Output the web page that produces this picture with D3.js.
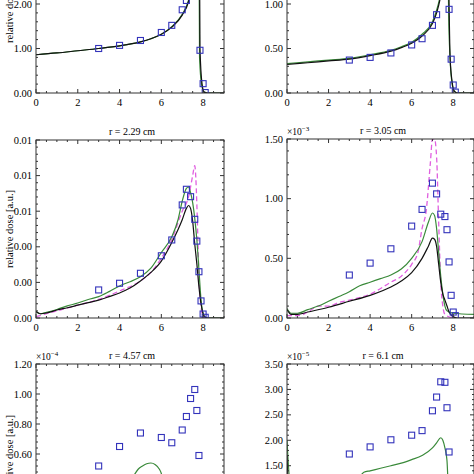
<!DOCTYPE html>
<html><head><meta charset="utf-8">
<script src="https://cdn.jsdelivr.net/npm/d3@7"></script>
<style>body{margin:0;background:#fff}text{font-family:"Liberation Serif","DejaVu Serif",serif}</style>
</head><body><svg id="c" width="474" height="474"></svg>
<script>
// ---- data (depth in cm, dose in panel units) ----
const p1Black=[[0,0.86],[1,0.9],[2,0.95],[3,1.0],[4,1.06],[5,1.15],[5.5,1.22],[6,1.32],[6.5,1.48],[7,1.75],[7.3,2.05],[7.5,2.5],[7.7,3.2],[7.82,3.6],[7.85,1.0],[7.95,0.2],[8.05,0.02],[8.2,0],[9,0]];
const p1Green=[[0,0.86],[1,0.9],[2,0.95],[3,1.0],[4,1.06],[5,1.15],[5.5,1.22],[6,1.32],[6.5,1.49],[7,1.77],[7.3,2.08],[7.5,2.55],[7.7,3.2],[7.8,3.5],[7.83,0.8],[7.93,0.18],[8.05,0.02],[8.2,0],[9,0]];
const p1Sq=[[3,1.0],[4,1.07],[5,1.18],[6,1.36],[6.5,1.52],[7,1.87],[7.2,2.08],[7.85,0.96],[8.0,0.21],[8.1,0.01]];

const p2Black=[[0,0.32],[1,0.34],[2,0.36],[3,0.38],[4,0.42],[5,0.47],[5.5,0.51],[6,0.56],[6.5,0.64],[7,0.78],[7.2,0.9],[7.4,1.1],[7.6,1.5],[7.75,1.8],[7.8,1.0],[7.85,0.4],[7.95,0.12],[8.05,0.02],[8.2,0],[9,0]];
const p2Green=[[0,0.33],[1,0.35],[2,0.37],[3,0.39],[4,0.43],[5,0.48],[5.5,0.52],[6,0.57],[6.5,0.66],[7,0.8],[7.2,0.93],[7.4,1.13],[7.6,1.55],[7.74,1.8],[7.78,0.9],[7.85,0.38],[7.95,0.1],[8.05,0.02],[8.2,0],[9,0]];
const p2Sq=[[3,0.37],[4,0.4],[5,0.45],[6,0.54],[6.5,0.61],[7,0.76],[7.2,0.88],[7.8,0.94],[7.9,0.38],[8.0,0.09],[8.1,0.01]];

const p3Black=[[0,0.45],[0.2,0.3],[0.5,0.35],[1,0.56],[1.5,0.72],[2,0.9],[2.5,1.08],[3,1.26],[3.5,1.5],[4,1.76],[4.5,2.1],[5,2.6],[5.5,3.2],[6,4.0],[6.5,5.3],[7,6.9],[7.2,7.7],[7.3,7.9],[7.4,7.7],[7.5,6.8],[7.6,5.2],[7.7,3.8],[7.8,2.2],[7.9,1.0],[8.0,0.3],[8.1,0.05],[8.2,0],[9,0]];
const p3Green=[[0,0.45],[0.2,0.3],[0.5,0.4],[1,0.6],[1.5,0.85],[2,1.05],[2.5,1.3],[3,1.5],[3.5,1.85],[4,2.25],[4.5,2.55],[5,2.9],[5.5,3.5],[6,4.6],[6.5,5.7],[6.8,6.9],[7,8.2],[7.2,9.1],[7.3,9.2],[7.4,8.8],[7.5,8.1],[7.6,7.0],[7.7,5.5],[7.8,3.4],[7.9,1.3],[8.0,0.3],[8.1,0.05],[8.2,0],[9,0]];
const p3Mag=[[0,0.1],[0.5,0.3],[1,0.5],[2,0.9],[3,1.3],[4,1.9],[5,2.6],[5.5,3.2],[6,4.2],[6.5,5.5],[7,7.5],[7.3,8.5],[7.5,10.0],[7.6,10.7],[7.7,8.0],[7.75,5.5],[7.8,3.0],[7.9,0.8],[8.0,0.1],[8.2,0]];
const p3Sq=[[3,1.97],[4,2.44],[5,3.14],[6,4.37],[6.5,5.48],[7,7.94],[7.2,9.04],[7.4,8.52],[7.6,6.93],[7.7,5.4],[7.8,3.25],[7.9,1.2],[8.0,0.28],[8.1,0.05]];
const p3Ticks=[0,2.5,5,7.5,10,12.5], p3TickLabels=["0.00","0.00","0.00","0.01","0.01","0.01"];

const p4Black=[[0,0.07],[0.2,0.03],[0.5,0.03],[1,0.05],[2,0.09],[3,0.14],[4,0.19],[5,0.26],[5.5,0.31],[6,0.38],[6.5,0.5],[6.8,0.6],[7,0.67],[7.1,0.66],[7.2,0.6],[7.3,0.45],[7.4,0.3],[7.5,0.2],[7.6,0.15],[7.7,0.1],[7.8,0.05],[8,0.01],[8.2,0],[9,0]];
const p4Green=[[0,0.08],[0.2,0.04],[0.5,0.04],[1,0.07],[1.5,0.1],[2,0.14],[2.5,0.18],[3,0.22],[3.5,0.27],[4,0.3],[4.5,0.33],[5,0.36],[5.5,0.41],[6,0.5],[6.5,0.64],[6.8,0.8],[7,0.88],[7.1,0.86],[7.2,0.75],[7.3,0.55],[7.4,0.35],[7.5,0.2],[7.6,0.1],[7.7,0.06],[8,0.04],[9,0.03]];
const p4Mag=[[0,0.02],[0.5,0.02],[1,0.05],[1.5,0.1],[2,0.1],[2.5,0.13],[3,0.15],[4,0.2],[5,0.3],[5.5,0.35],[6,0.45],[6.3,0.55],[6.5,0.75],[6.7,0.9],[6.9,1.3],[7.0,1.5],[7.1,1.5],[7.2,1.35],[7.3,0.8],[7.4,0.3],[7.5,0.1],[7.6,0.03],[8,0]];
const p4Sq=[[3,0.36],[4,0.46],[5,0.58],[6,0.77],[6.5,0.91],[7,1.13],[7.2,1.04],[7.4,0.87],[7.6,0.85],[7.7,0.74],[7.8,0.47],[7.9,0.19],[8.0,0.05],[8.1,0.02]];

const p5Green=[[0,0.2],[1,0.25],[2,0.3],[3,0.35],[4,0.39],[4.5,0.42],[4.7,0.46],[4.9,0.5],[5.1,0.52],[5.3,0.535],[5.5,0.54],[5.7,0.53],[5.9,0.5],[6.0,0.47],[6.1,0.4],[6.3,0.35],[7,0.3],[8,0.05]];
const p5Sq=[[3,0.52],[4,0.65],[5,0.74],[6,0.71],[6.5,0.675],[7,0.76],[7.2,0.85],[7.4,0.97],[7.6,1.03],[7.7,0.89],[7.8,0.59],[7.9,0.3],[8.0,0.1]];

const p6Black=[[0,1.7],[0.1,1.0],[1,0.9],[3,1.0],[5,1.1],[7,1.3],[7.7,1.2],[8,0.3],[9,0.2]];
const p6Green=[[0,2.0],[0.15,1.2],[1,1.1],[2,1.15],[3,1.25],[3.5,1.3],[3.7,1.37],[4,1.4],[4.5,1.45],[5,1.5],[5.5,1.55],[6,1.62],[6.5,1.7],[7,1.85],[7.2,1.95],[7.4,2.05],[7.5,2.0],[7.6,1.85],[7.7,1.6],[7.75,1.2],[8,0.5],[9,0.3]];
const p6Sq=[[3,1.73],[4,1.87],[5,2.01],[6,2.1],[6.5,2.19],[7,2.58],[7.2,2.85],[7.4,3.15],[7.6,3.14],[7.7,2.64],[7.8,1.77]];

const xTicks=[0,2,4,6,8];

// ---- drawing ----
const svg=d3.select("#c");
const panels=[
 {x:[36,224],y:[93,-85],dom:[0,4],ticks:[0,1,2,3,4],fmt:d3.format(".2f"),black:p1Black,green:p1Green,sq:p1Sq,ylab:true},
 {x:[287,474],y:[93,-85],dom:[0,2],ticks:[0,0.5,1,1.5,2],fmt:d3.format(".2f"),black:p2Black,green:p2Green,sq:p2Sq},
 {x:[36,224],y:[318,140],dom:[0,12.5],ticks:p3Ticks,labels:p3TickLabels,black:p3Black,green:p3Green,mag:p3Mag,sq:p3Sq,title:"r = 2.29 cm",ylab:true},
 {x:[287,474],y:[318,139],dom:[0,1.5],ticks:[0,0.5,1,1.5],fmt:d3.format(".2f"),black:p4Black,green:p4Green,mag:p4Mag,sq:p4Sq,title:"r = 3.05 cm",exp:"−3"},
 {x:[36,224],y:[544,364],dom:[0,1.2],ticks:[0,0.2,0.4,0.6,0.8,1.0,1.2],fmt:d3.format(".2f"),green:p5Green,sq:p5Sq,title:"r = 4.57 cm",exp:"−4",ylab:true},
 {x:[287,474],y:[542,364],dom:[0,3.5],ticks:[0,0.5,1,1.5,2,2.5,3,3.5],fmt:d3.format(".2f"),black:p6Black,green:p6Green,sq:p6Sq,title:"r = 6.1 cm",exp:"−5"}
];
panels.forEach((p,i)=>{
  const xs=d3.scaleLinear().domain([0,9]).range(p.x);
  const ys=d3.scaleLinear().domain(p.dom).range(p.y);
  const g=svg.append("g");
  const cid="clip"+i;
  g.append("clipPath").attr("id",cid).append("rect").attr("x",p.x[0]).attr("y",p.y[1]).attr("width",p.x[1]-p.x[0]).attr("height",p.y[0]-p.y[1]);
  const pl=g.append("g").attr("clip-path",`url(#${cid})`);
  const line=d3.line().x(d=>xs(d[0])).y(d=>ys(d[1])).curve(d3.curveMonotoneX);
  if(p.mag) pl.append("path").attr("d",line(p.mag)).attr("fill","none").attr("stroke","#e060e0").attr("stroke-width",1.3).attr("stroke-dasharray","5,3");
  if(p.green) pl.append("path").attr("d",line(p.green)).attr("fill","none").attr("stroke","#3a8a3a").attr("stroke-width",1.2);
  if(p.black) pl.append("path").attr("d",line(p.black)).attr("fill","none").attr("stroke","#111").attr("stroke-width",1.2);
  pl.selectAll("rect.sq").data(p.sq).join("rect").attr("x",d=>xs(d[0])-3).attr("y",d=>ys(d[1])-3).attr("width",6).attr("height",6).attr("fill","none").attr("stroke","#3333bb").attr("stroke-width",1.1);
  // frame
  g.append("rect").attr("x",p.x[0]).attr("y",p.y[1]).attr("width",p.x[1]-p.x[0]).attr("height",p.y[0]-p.y[1]).attr("fill","none").attr("stroke","#333").attr("stroke-width",1);
  // x ticks
  d3.range(0,9.01,0.5).forEach(v=>{
    const major=xTicks.includes(v), L=major?4:2;
    g.append("line").attr("x1",xs(v)).attr("x2",xs(v)).attr("y1",p.y[0]).attr("y2",p.y[0]-L).attr("stroke","#333");
    g.append("line").attr("x1",xs(v)).attr("x2",xs(v)).attr("y1",p.y[1]).attr("y2",p.y[1]+L).attr("stroke","#333");
  });
  xTicks.forEach(v=>g.append("text").attr("x",xs(v)).attr("y",p.y[0]+13).attr("text-anchor","middle").attr("font-size",10.5).text(v));
  // y ticks
  const step=p.ticks[1]-p.ticks[0];
  for(let k=0;k<p.ticks.length*5;k++){const v=p.dom[0]+k*step/5; if(v>p.dom[1]+1e-9)break; const L=k%5===0?4:2;
    g.append("line").attr("x1",p.x[0]).attr("x2",p.x[0]+L).attr("y1",ys(v)).attr("y2",ys(v)).attr("stroke","#333");
    g.append("line").attr("x1",p.x[1]).attr("x2",p.x[1]-L).attr("y1",ys(v)).attr("y2",ys(v)).attr("stroke","#333");}
  p.ticks.forEach((v,j)=>g.append("text").attr("x",p.x[0]-4).attr("y",ys(v)+3.5).attr("text-anchor","end").attr("font-size",10.5).text(p.labels?p.labels[j]:p.fmt(v)));
  if(p.title) g.append("text").attr("x",(p.x[0]+224-36+p.x[0])/2+2).attr("y",p.y[1]-5).attr("text-anchor","middle").attr("font-size",10).text(p.title);
  if(p.exp){const t=g.append("text").attr("x",p.x[0]).attr("y",p.y[1]-4).attr("font-size",9.5).text("×10");t.append("tspan").attr("dy",-4).attr("font-size",7).text(p.exp);}
  if(p.ylab) g.append("text").attr("transform",`translate(13,${(p.y[0]+p.y[1])/2}) rotate(-90)`).attr("text-anchor","middle").attr("font-size",10.5).text("relative dose [a.u.]");
});
</script></body></html>
